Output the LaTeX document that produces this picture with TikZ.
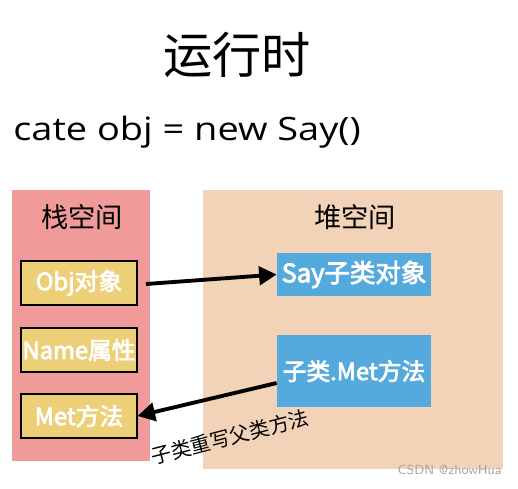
\documentclass[tikz,border=0pt]{standalone}
\usepackage{fontspec}
\setmainfont{Noto Sans CJK SC}
\newfontfamily\codefont[FakeStretch=1.18]{Open Sans}
\newfontfamily\boxfont[FakeBold=3]{Noto Sans CJK SC}
\usetikzlibrary{arrows.meta}
\definecolor{stackred}{RGB}{240,154,154}
\definecolor{heapsand}{RGB}{242,211,183}
\definecolor{slotyellow}{RGB}{237,207,120}
\definecolor{objblue}{RGB}{85,170,221}
\tikzset{
  slot/.style={draw=black, line width=0.6pt, fill=slotyellow, text=white,
    font=\boxfont\fontsize{13.5}{15}\selectfont,
    minimum width=2.32cm, minimum height=0.88cm, inner sep=0pt},
  heapobj/.style={fill=objblue, text=white,
    font=\boxfont\fontsize{14.5}{16}\selectfont,
    minimum width=3.08cm, inner sep=0pt},
  ref/.style={-{Triangle[length=10pt,width=10.5pt]}, line width=2.2pt}
}
\begin{document}
\begin{tikzpicture}[x=0.02cm,y=-0.02cm]
            \useasboundingbox (0,0) rectangle (518,488);
            % areas
            \fill[stackred] (12,190) rectangle (150,461);
            \fill[heapsand] (203,190) rectangle (503,469);
            \node (title) at (237,55) {\fontsize{28}{31}\selectfont 运行时};
            \node[anchor=base west, inner sep=0pt] (code) at (13,140) {\codefont\fontsize{18.3}{20}\selectfont cate obj = new Say()};
            \node (stack) at (82,217) {\fontsize{15.5}{17}\selectfont 栈空间};
            \node (heap) at (355,217) {\fontsize{15.5}{17}\selectfont 堆空间};
            % stack slots
            \node[slot] (obj) at (79,283) {Obj对象};
            \node[slot] (name) at (79,350) {Name属性};
            \node[slot] (met) at (79,416) {Met方法};
            % heap objects
            \node[heapobj, minimum height=0.86cm] (say) at (354,274.5) {Say子类对象};
            \node[heapobj, minimum height=1.44cm, font=\boxfont\fontsize{13.5}{15}\selectfont] (submet) at (354,371) {子类.Met方法};
            \draw[ref] (146,284) -- (say.west);
            \draw[ref] (submet.west|-0,383) -- (met.east);
            \node[rotate=14.5] (override) at (230,437) {\fontsize{11.5}{13}\selectfont 子类重写父类方法};
            \node[anchor=east, inner sep=0pt, text=black!35] (mark) at (502,470) {\fontsize{7.5}{8}\selectfont\sffamily CSDN @zhowHua};
        \end{tikzpicture}
\end{document}
